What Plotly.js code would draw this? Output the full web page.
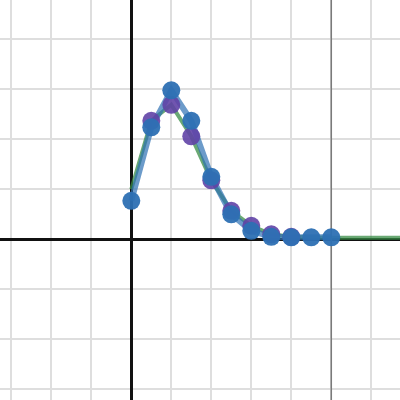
<!DOCTYPE html>
<html>
<head>
<meta charset="utf-8">
<script src="https://cdn.plot.ly/plotly-3.0.1.min.js"></script>
<style>html,body{margin:0;padding:0;background:#fff;}#chart{width:400px;height:400px;}</style>
</head>
<body>
<div id="chart"></div>
<script>
// Data
var xBlue = [0, 0.5, 1, 1.5, 2, 2.5, 3, 3.5, 4, 4.5, 5];
var yBlue = [0.77, 2.24, 2.98, 2.37, 1.25, 0.5, 0.17, 0.05, 0.04, 0.04, 0.04];
var xPurple = [0.5, 1, 1.5, 2, 2.5, 3, 3.5, 4];
var yPurple = [2.37, 2.69, 2.06, 1.18, 0.57, 0.27, 0.1, 0.05];
var xGreen = [0, 0.5, 1, 1.5, 2, 2.5, 3, 3.5, 4, 4.5, 5, 6.8];
var yGreen = [1.0, 2.37, 2.69, 2.06, 1.18, 0.57, 0.27, 0.1, 0.05, 0.04, 0.03, 0.03];
var markerLineX = 5;
var xRange = [-3.283, 6.718];
var yRange = [-3.214, 4.786];

var traces = [
  {x: [markerLineX, markerLineX], y: yRange, mode: 'lines', line: {color: '#7a7a7a', width: 1.5}, hoverinfo: 'skip'},
  {x: xGreen, y: yGreen, mode: 'lines', line: {color: '#388c46', width: 4}, opacity: 0.75, hoverinfo: 'skip'},
  {x: xBlue, y: yBlue, mode: 'lines', line: {color: '#2d70b3', width: 6}, opacity: 0.7, hoverinfo: 'skip'},
  {x: xPurple, y: yPurple, mode: 'markers', marker: {color: '#6042a6', size: 18, opacity: 0.9, line: {width: 0}}},
  {x: xBlue, y: yBlue, mode: 'markers', marker: {color: '#2d70b3', size: 18, opacity: 0.95, line: {width: 0}}}
];

var layout = {
  width: 400, height: 400,
  margin: {l: 0, r: 0, t: 0, b: 0, pad: 0},
  paper_bgcolor: '#fff', plot_bgcolor: '#fff',
  showlegend: false,
  xaxis: {range: xRange, dtick: 1, tick0: 0, showticklabels: false, ticks: '',
          showgrid: true, gridcolor: '#dedede', gridwidth: 2,
          zeroline: true, zerolinecolor: '#111', zerolinewidth: 3, showline: false, fixedrange: true},
  yaxis: {range: yRange, dtick: 1, tick0: 0, showticklabels: false, ticks: '',
          showgrid: true, gridcolor: '#dedede', gridwidth: 2,
          zeroline: true, zerolinecolor: '#111', zerolinewidth: 3, showline: false, fixedrange: true}
};

Plotly.newPlot('chart', traces, layout, {staticPlot: true, displayModeBar: false});
</script>
</body>
</html>
